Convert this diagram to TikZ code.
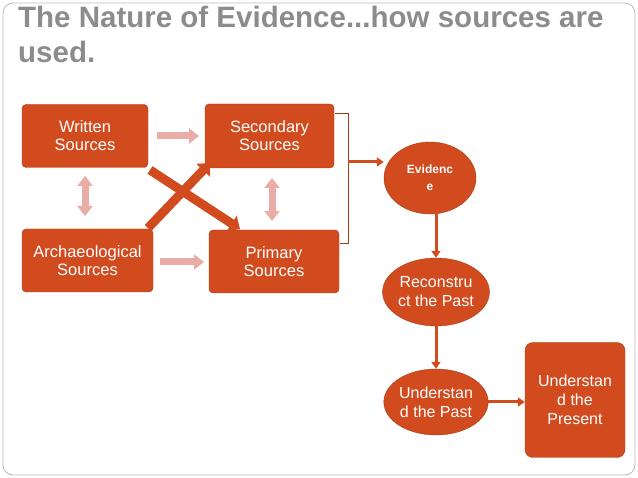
\documentclass[tikz,border=0pt]{standalone}
\usepackage{fontspec}
\setmainfont{Liberation Sans}
\usetikzlibrary{arrows.meta,shapes.geometric}
\definecolor{org}{HTML}{D14B1F}
\definecolor{pnk}{HTML}{E9ADA5}
\definecolor{ttl}{HTML}{8C8C8C}
\begin{document}
\begin{tikzpicture}[x=1pt,y=-1pt,
 box/.style={draw=org!80!black,fill=org,rounded corners=4pt,text=white,align=center,font=\fontsize{16.5}{18}\selectfont,inner sep=0},
 ell/.style={ellipse,draw=org!80!black,fill=org,text=white,align=center,font=\fontsize{16}{19}\selectfont,inner sep=0},
 parr/.style={pnk,line width=7pt,-{Triangle[length=10pt,width=15pt]}},
 pdarr/.style={pnk,line width=7pt,{Triangle[length=10pt,width=15pt]}-{Triangle[length=10pt,width=15pt]}},
 oarr/.style={org,line width=3pt,-{Triangle[length=7pt,width=9pt]}},
 xarr/.style={org,line width=9pt,-{Triangle[length=10pt,width=18pt]}}]
\useasboundingbox (0,0) rectangle (638,478);
\draw[ttl!60,rounded corners=10pt,line width=0.8pt] (3,3) rectangle (635,475);
\node[anchor=north west,text=ttl,font=\bfseries\fontsize{29.5}{35}\selectfont,align=left,inner sep=0] (t) at (18,6) {The Nature of Evidence...how sources are\\used.};
\node[box,minimum width=126pt,minimum height=63pt] (w) at (85,136) {Written\\Sources};
\node[box,minimum width=129pt,minimum height=64pt] (s) at (269.5,136) {Secondary\\Sources};
\node[box,minimum width=131pt,minimum height=63pt] (a) at (87.5,260.5) {Archaeological\\Sources};
\node[box,minimum width=130pt,minimum height=63pt] (p) at (274,261.5) {Primary\\Sources};
\node[ell,minimum width=92pt,minimum height=72pt,font=\bfseries\fontsize{12}{17}\selectfont] (e) at (430,178) {Evidenc\\e};
\node[ell,minimum width=94pt,minimum height=68pt] (r) at (436,292) {Reconstru\\ct the Past};
\node[ell,minimum width=102pt,minimum height=66pt] (u) at (436,402) {Understan\\d the Past};
\node[box,rounded corners=8pt,minimum width=100pt,minimum height=115pt,font=\fontsize{16}{19}\selectfont] (up) at (575,400) {Understan\\d the\\Present};
\coordinate (h1a) at (157,136); \coordinate (h1b) at (199,136);
\coordinate (h2a) at (160,262); \coordinate (h2b) at (204,262);
\draw[parr] (h1a) -- (h1b);
\draw[parr] (h2a) -- (h2b);
\coordinate (v1a) at (85,176); \coordinate (v1b) at (85,216);
\coordinate (v2a) at (272,178); \coordinate (v2b) at (272,221);
\draw[pdarr] (v1a) -- (v1b);
\draw[pdarr] (v2a) -- (v2b);
\coordinate (x1a) at (150,170); \coordinate (x1b) at (240,229);
\coordinate (x2a) at (148,228); \coordinate (x2b) at (210,163);
\draw[xarr] (x1a) -- (x1b);
\draw[xarr] (x2a) -- (x2b);
\coordinate (b1) at (335,113); \coordinate (b2) at (348,113); \coordinate (b3) at (348,243); \coordinate (b4) at (340,243);
\draw[org!80!black,line width=0.7pt] (b1) -- (b2) -- (b3) -- (b4);
\coordinate (bm) at (348,162);
\draw[oarr] (bm) -- (e.west|-bm);
\draw[oarr] (e.south-|r) -- (r.north);
\draw[oarr] (r.south) -- (u.north);
\draw[oarr] (u.east) -- (up.west|-u.east);
\end{tikzpicture}
\end{document}
